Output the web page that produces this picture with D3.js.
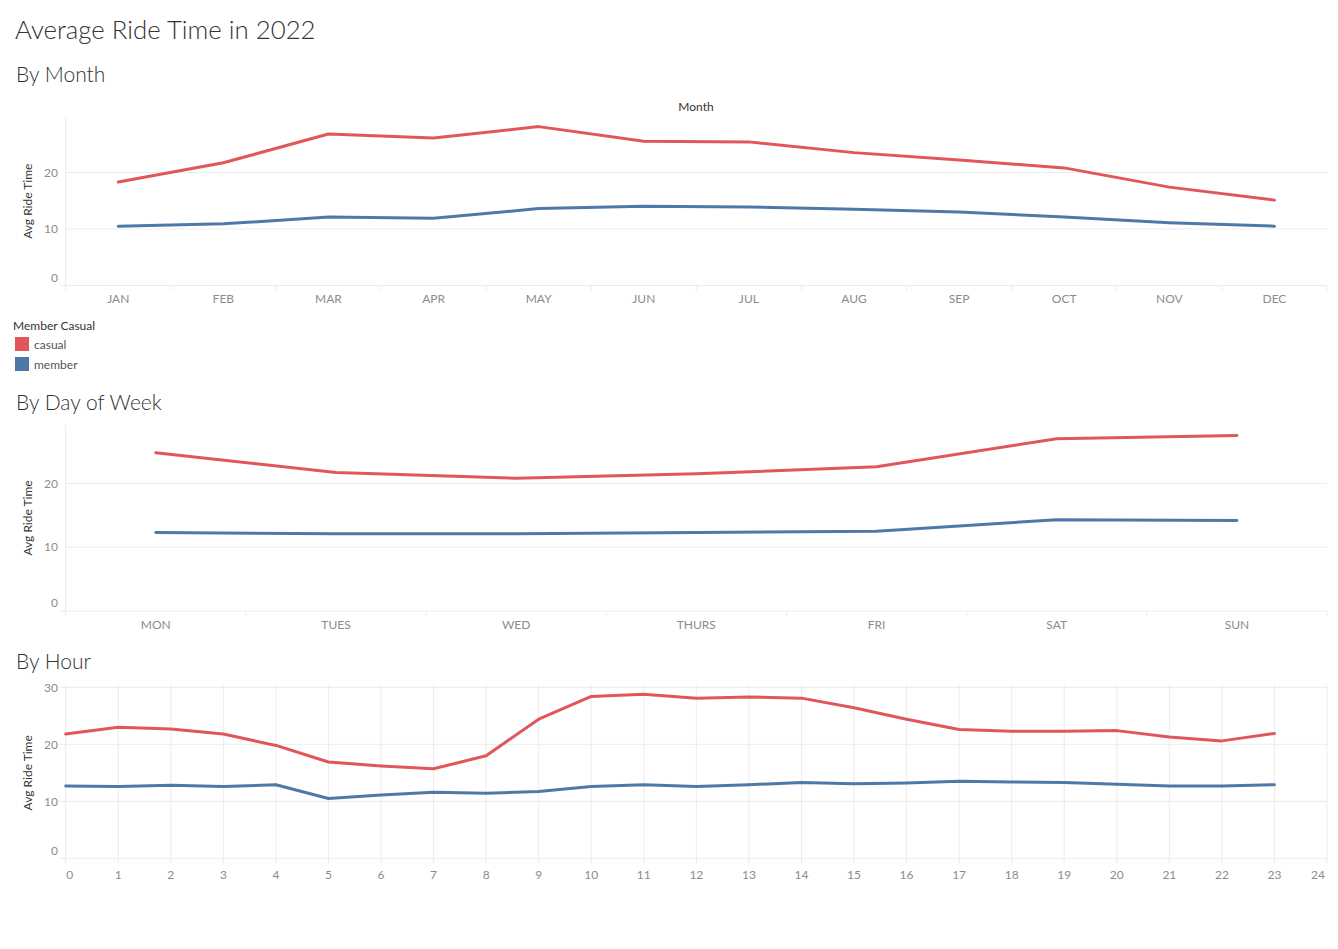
<!DOCTYPE html>
<html><head><meta charset="utf-8">
<script src="https://cdn.jsdelivr.net/npm/d3@7"></script>
<style>
body{margin:0;background:#fff;}
svg text{font-family:Lato,"Open Sans",sans-serif;}
</style></head>
<body><svg id="c" width="1338" height="949"></svg>
<script>
const months = ["JAN","FEB","MAR","APR","MAY","JUN","JUL","AUG","SEP","OCT","NOV","DEC"];
const monthCasual = [18.3,21.7,26.8,26.1,28.1,25.5,25.4,23.5,22.2,20.8,17.4,15.1];
const monthMember = [10.5,10.9,12.1,11.9,13.6,14.0,13.9,13.5,13.0,12.1,11.1,10.5];
const days = ["MON","TUES","WED","THURS","FRI","SAT","SUN"];
const dayCasual = [24.8,21.7,20.8,21.5,22.6,27.0,27.5];
const dayMember = [12.3,12.1,12.1,12.3,12.5,14.3,14.2];
const hours = d3.range(0,24);
const hourCasual = [21.8,23.0,22.7,21.8,19.8,16.9,16.2,15.7,18.0,24.4,28.4,28.8,28.1,28.3,28.1,26.4,24.4,22.6,22.3,22.3,22.4,21.3,20.6,21.9];
const hourMember = [12.7,12.6,12.8,12.6,12.9,10.5,11.1,11.6,11.4,11.7,12.6,12.9,12.6,12.9,13.3,13.1,13.2,13.5,13.4,13.3,13.0,12.7,12.7,12.9];
const yTicks = [0,10,20];
const hourYTicks = [0,10,20,30];
const hourXTicks = d3.range(0,25);
const seriesNames = ["casual","member"];
const colors = {casual:"#e15759", member:"#4e79a7"};

const svg = d3.select("#c");
const L = 65.7, R = 1327;
const grid = "#ececec";
const tickCol = "#8c8c8c";

svg.append("text").attr("x",15).attr("y",39).attr("font-size",25.8).attr("font-weight",300).attr("fill","#333").text("Average Ride Time in 2022");
[["By Month",82],["By Day of Week",410],["By Hour",669]].forEach(([t,yy])=>{
  svg.append("text").attr("x",16).attr("y",yy).attr("font-size",21).attr("font-weight",300).attr("fill","#333").text(t);
});

function yAxisTitle(cy){
  svg.append("text").attr("transform",`translate(32,${cy}) rotate(-90)`).attr("text-anchor","middle")
    .attr("font-size",12).attr("fill","#333").text("Avg Ride Time");
}

function bandChart(cats, casual, member, top, bottom, ymax){
  const x = d3.scaleBand().domain(cats).range([L,R]);
  const y = d3.scaleLinear().domain([0,ymax]).range([bottom,top]);
  const g = svg.append("g");
  yTicks.filter(t=>t>0).forEach(t=>{
    g.append("line").attr("x1",L).attr("x2",R).attr("y1",y(t)).attr("y2",y(t)).attr("stroke",grid);
  });
  g.append("line").attr("x1",L).attr("x2",L).attr("y1",top).attr("y2",bottom+5).attr("stroke",grid);
  g.append("line").attr("x1",60).attr("x2",R).attr("y1",bottom).attr("y2",bottom).attr("stroke",grid);
  cats.forEach((c,i)=>{
    const bx = x(c)+x.bandwidth();
    g.append("line").attr("x1",bx).attr("x2",bx).attr("y1",bottom).attr("y2",bottom+5).attr("stroke",grid);
  });
  yTicks.forEach(t=>{
    const yy = t===0 ? y(t)-8 : y(t);
    g.append("text").attr("x",58).attr("y",yy).attr("dy","0.35em").attr("text-anchor","end")
      .attr("font-size",12).attr("fill",tickCol).text(t);
  });
  cats.forEach(c=>{
    g.append("text").attr("x",x(c)+x.bandwidth()/2).attr("y",bottom+17.5).attr("text-anchor","middle")
      .attr("font-size",12).attr("fill",tickCol).text(c);
  });
  const line = d3.line().x((d,i)=>x(cats[i])+x.bandwidth()/2).y(d=>y(d));
  [["member",member],["casual",casual]].forEach(([n,vals])=>{
    g.append("path").attr("d",line(vals)).attr("fill","none").attr("stroke",colors[n])
      .attr("stroke-width",3).attr("stroke-linejoin","round").attr("stroke-linecap","round");
  });
  yAxisTitle((top+bottom)/2);
}

bandChart(months, monthCasual, monthMember, 117, 285.5, 29.8);
svg.append("text").attr("x",696).attr("y",111).attr("text-anchor","middle").attr("font-size",12).attr("fill","#333").text("Month");
bandChart(days, dayCasual, dayMember, 425, 611, 29.15);

// legend
svg.append("text").attr("x",13).attr("y",330).attr("font-size",12).attr("fill","#333").text("Member Casual");
seriesNames.forEach((n,i)=>{
  svg.append("rect").attr("x",15).attr("y",337+i*20).attr("width",14).attr("height",14).attr("fill",colors[n]);
  svg.append("text").attr("x",34).attr("y",348.5+i*20).attr("font-size",12).attr("fill","#555").text(n);
});

// hour chart
(function(){
  const top=687.3, bottom=858.3;
  const x = d3.scaleLinear().domain([0,24]).range([L,R]);
  const y = d3.scaleLinear().domain([0,30]).range([bottom,top]);
  const g = svg.append("g");
  hourYTicks.forEach(t=>{
    g.append("line").attr("x1",60).attr("x2",R).attr("y1",y(t)).attr("y2",y(t)).attr("stroke",grid);
    const yy = t===0 ? y(t)-8 : y(t);
    g.append("text").attr("x",58).attr("y",yy).attr("dy","0.35em").attr("text-anchor","end")
      .attr("font-size",12).attr("fill",tickCol).text(t);
  });
  hourXTicks.forEach(t=>{
    g.append("line").attr("x1",x(t)).attr("x2",x(t)).attr("y1",top-3).attr("y2",bottom+5).attr("stroke",grid);
    const dx = t===0 ? 4 : (t===24 ? -9 : 0);
    g.append("text").attr("x",x(t)+dx).attr("y",bottom+20.5).attr("text-anchor","middle")
      .attr("font-size",12).attr("fill",tickCol).text(t);
  });
  const line = d3.line().x((d,i)=>x(hours[i])).y(d=>y(d));
  [["member",hourMember],["casual",hourCasual]].forEach(([n,vals])=>{
    g.append("path").attr("d",line(vals)).attr("fill","none").attr("stroke",colors[n])
      .attr("stroke-width",3).attr("stroke-linejoin","round").attr("stroke-linecap","round");
  });
  yAxisTitle((top+bottom)/2);
})();
</script></body></html>
